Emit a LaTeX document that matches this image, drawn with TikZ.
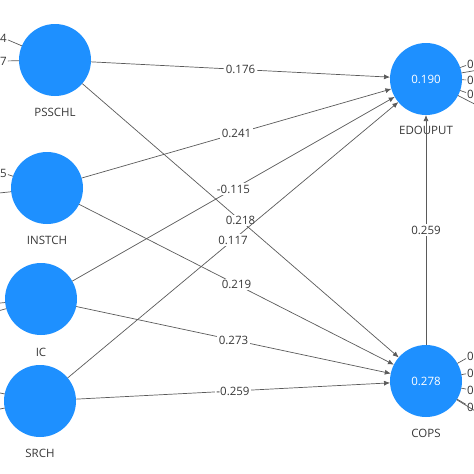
\documentclass[tikz,border=0pt]{standalone}
\usepackage{fontspec}
\setmainfont{Open Sans}
\usetikzlibrary{positioning,arrows.meta}
\definecolor{lvblue}{RGB}{30,144,255}
\definecolor{txtgray}{RGB}{55,55,55}
\definecolor{linegray}{RGB}{90,90,90}
\begin{document}
\begin{tikzpicture}[x=1pt,y=-1pt,
    lv/.style={circle,fill=lvblue,minimum size=72pt,inner sep=0pt,outer sep=0pt,text=white},
    lvname/.style={text=txtgray,inner sep=0pt},
    coef/.style={fill=white,inner sep=1.5pt,text=txtgray},
    ld/.style={fill=white,inner sep=1pt,text=txtgray},
    pathc/.style={draw=linegray,line width=0.7pt,-{Latex[length=6pt,width=5pt]}},
    stub/.style={draw=linegray,line width=0.7pt},
    font=\fontsize{11.5}{13}\selectfont]
  \useasboundingbox (0,0) rectangle (474,474);
  \clip (0,0) rectangle (474,474);
  % latent variables
  \node[lv] (psschl) at (55,60) {};
  \node[lv] (instch) at (47,188) {};
  \node[lv] (ic) at (41,299) {};
  \node[lv] (srch) at (40,401) {};
  \node[lv] (edouput) at (426,79) {0.190};
  \node[lv] (cops) at (426,381) {0.278};
  \node[lvname,below=12pt of psschl] (psschl-n) {PSSCHL};
  \node[lvname,below=12pt of instch] (instch-n) {INSTCH};
  \node[lvname,below=13pt of ic] (ic-n) {IC};
  \node[lvname,below=12pt of srch] (srch-n) {SRCH};
  \node[lvname,below=11pt of edouput] (edouput-n) {EDOUPUT};
  \node[lvname,below=12pt of cops] (cops-n) {COPS};
  % path coefficients
  \draw[pathc] (psschl) -- node[coef] (c1) {0.176} (edouput);
  \draw[pathc] (psschl) -- node[coef] (c2) {0.218} (cops);
  \draw[pathc] (instch) -- node[coef] (c3) {0.241} (edouput);
  \draw[pathc] (instch) -- node[coef] (c4) {0.219} (cops);
  \draw[pathc] (ic) -- node[coef] (c5) {-0.115} (edouput);
  \draw[pathc] (ic) -- node[coef] (c6) {0.273} (cops);
  \draw[pathc] (srch) -- node[coef] (c7) {0.117} (edouput);
  \draw[pathc] (srch) -- node[coef] (c8) {-0.259} (cops);
  \draw[pathc] (cops) -- node[coef] (c9) {0.259} (edouput);
  % indicator loadings at the frame
  \node[ld,anchor=west] (psschl-l1) at (-1,38) {4};
  \node[ld,anchor=west] (psschl-l2) at (-1,61) {7};
  \draw[stub] (psschl) -- (psschl-l1);
  \draw[stub] (psschl) -- (psschl-l2);
  \node[ld,anchor=west] (instch-l1) at (-1,173) {5};
  \coordinate (instch-l2) at (-20,195);
  \draw[stub] (instch) -- (instch-l1);
  \draw[stub] (instch) -- (instch-l2);
  \coordinate (ic-l1) at (-20,305);
  \coordinate (ic-l2) at (-20,316);
  \draw[stub] (ic) -- (ic-l1);
  \draw[stub] (ic) -- (ic-l2);
  \coordinate (srch-l1) at (-20,389);
  \coordinate (srch-l2) at (-20,413);
  \draw[stub] (srch) -- (srch-l1);
  \draw[stub] (srch) -- (srch-l2);
  \node[ld,anchor=east] (edouput-l1) at (475,64) {0};
  \coordinate (edouput-l2) at (490,68);
  \node[ld,anchor=east] (edouput-l3) at (475,80) {0};
  \node[ld,anchor=east] (edouput-l4) at (475,94) {0};
  \coordinate (edouput-l5) at (490,112);
  \foreach \i in {1,...,5} \draw[stub] (edouput) -- (edouput-l\i);
  \node[ld,anchor=east] (cops-l1) at (475,356) {0};
  \node[ld,anchor=east] (cops-l2) at (475,373) {0};
  \node[ld,anchor=east] (cops-l3) at (475,390) {0};
  \node[ld,anchor=east] (cops-l4) at (475,407) {0};
  \coordinate (cops-l5) at (490,420);
  \foreach \i in {1,...,5} \draw[stub] (cops) -- (cops-l\i);
\end{tikzpicture}
\end{document}
